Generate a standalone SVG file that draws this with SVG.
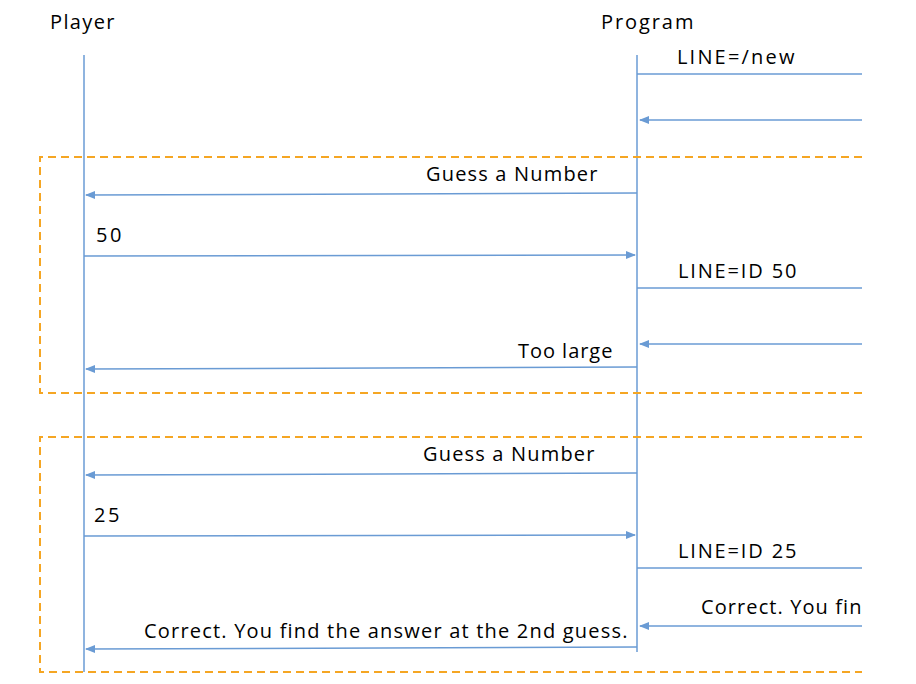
<svg xmlns="http://www.w3.org/2000/svg" width="916" height="684" viewBox="0 0 916 684">
<style>
text{font-family:"Open Sans","Liberation Sans",sans-serif;font-size:20px;letter-spacing:0.6px;fill:#000}
.l{stroke:#6a9bd4;stroke-width:1.5;fill:none}
.b{stroke:#f5a623;stroke-width:2;stroke-dasharray:8,5;fill:none}
</style>
<defs><marker id="a" viewBox="0 0 10 10" refX="9" refY="5" markerWidth="7" markerHeight="7" orient="auto"><path d="M0,1L10,5L0,9z" fill="#6a9bd4"/></marker></defs>
<rect width="916" height="684" fill="#fff"/>
<g id="player"><text x="50" y="29" textLength="65">Player</text><line class="l" x1="84" y1="55" x2="84" y2="672"/></g>
<g id="program"><text x="601" y="29" textLength="93">Program</text><line class="l" x1="637" y1="55" x2="637" y2="652"/></g>
<g id="box1"><path class="b" d="M862,157H40V393H862"/></g>
<g id="box2"><path class="b" d="M862,437H40V672H862"/></g>
<g id="connectors">
<line class="l" x1="637" y1="74" x2="862" y2="74"/>
<line class="l" x1="862" y1="120" x2="640" y2="120" marker-end="url(#a)"/>
<line class="l" x1="637" y1="193" x2="86" y2="195" marker-end="url(#a)"/>
<line class="l" x1="84" y1="256" x2="635" y2="255" marker-end="url(#a)"/>
<line class="l" x1="637" y1="288" x2="862" y2="288"/>
<line class="l" x1="862" y1="344" x2="640" y2="344" marker-end="url(#a)"/>
<line class="l" x1="637" y1="367" x2="86" y2="369" marker-end="url(#a)"/>
<line class="l" x1="637" y1="473" x2="86" y2="475" marker-end="url(#a)"/>
<line class="l" x1="84" y1="536" x2="635" y2="535" marker-end="url(#a)"/>
<line class="l" x1="637" y1="568" x2="862" y2="568"/>
<line class="l" x1="862" y1="626" x2="640" y2="626" marker-end="url(#a)"/>
<line class="l" x1="637" y1="647" x2="86" y2="649" marker-end="url(#a)"/>
</g>
<g id="labels">
<text x="677" y="64" textLength="118">LINE=/new</text>
<text x="426" y="181" textLength="172">Guess a Number</text>
<text x="96" y="242" textLength="26">50</text>
<text x="678" y="278" textLength="119">LINE=ID 50</text>
<text x="518" y="358" textLength="95">Too large</text>
<text x="423" y="461" textLength="172">Guess a Number</text>
<text x="94" y="522" textLength="26">25</text>
<text x="678" y="558" textLength="119">LINE=ID 25</text>
<text x="701" y="614" textLength="161">Correct. You fin</text>
<text x="144" y="638" textLength="484">Correct. You find the answer at the 2nd guess.</text>
</g>
</svg>
